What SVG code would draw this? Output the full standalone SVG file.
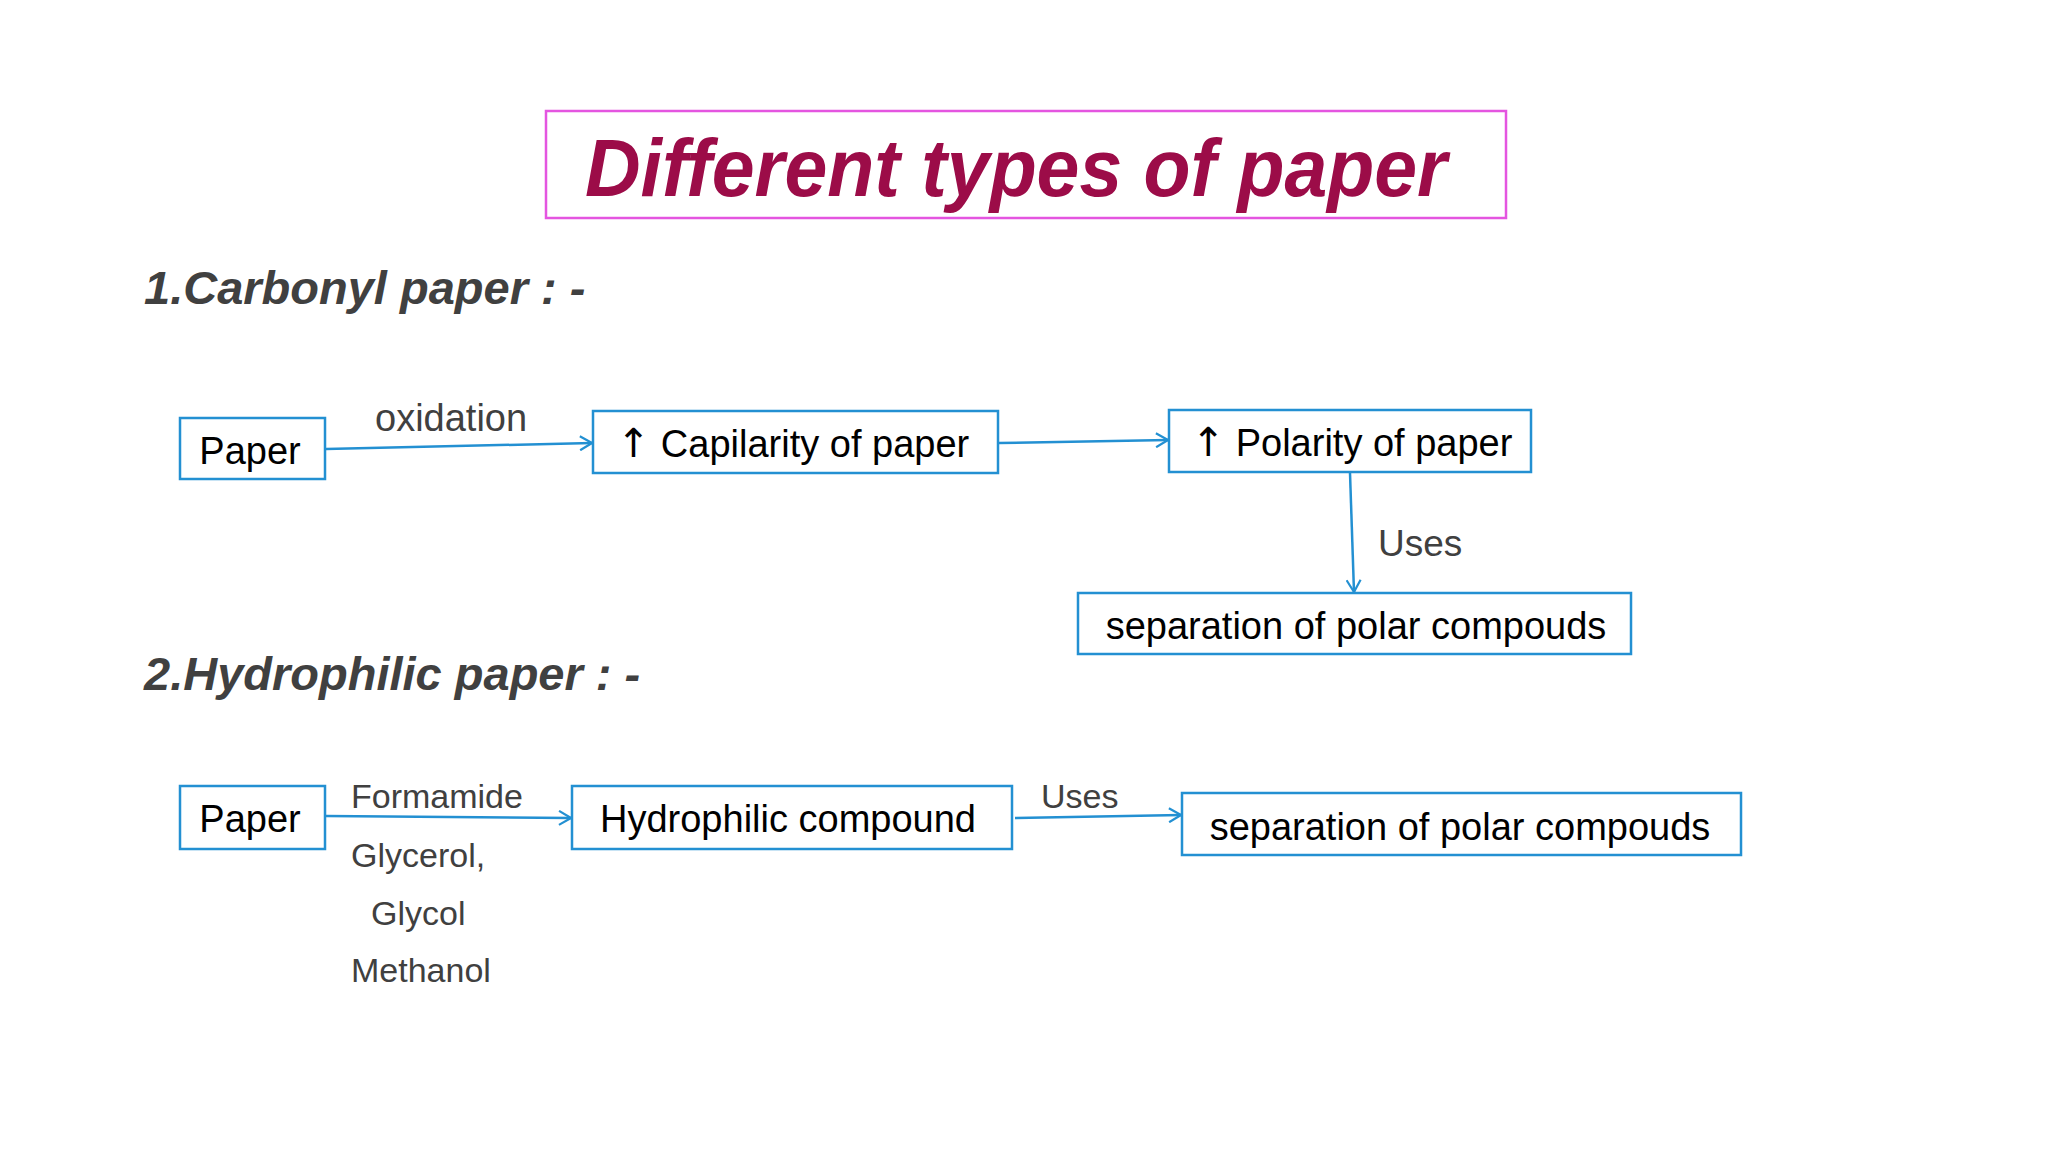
<svg xmlns="http://www.w3.org/2000/svg" width="2048" height="1152" viewBox="0 0 2048 1152">
<defs>
<style>
.box{fill:#ffffff;stroke:#2390d2;stroke-width:2.5}
.conn{fill:none;stroke:#2390d2;stroke-width:2.5}
.bt{font-family:"Liberation Sans",Arial,sans-serif;font-size:38px;fill:#000000;text-anchor:middle}
.up{font-family:"DejaVu Sans",sans-serif;font-size:40px}
.lbl{font-family:"Liberation Sans",Arial,sans-serif;fill:#404040}
.head{font-family:"Liberation Sans",Arial,sans-serif;font-weight:bold;font-style:italic;font-size:47px;fill:#404040}
</style>
<marker id="arr" viewBox="0 0 14 16" refX="13" refY="8" markerWidth="14" markerHeight="16" markerUnits="userSpaceOnUse" orient="auto">
<path d="M1,1 L13,8 L1,15" fill="none" stroke="#2390d2" stroke-width="2.2"/>
</marker>
</defs>
<rect width="2048" height="1152" fill="#ffffff"/>
<g id="title">
<rect x="546" y="111" width="960" height="107" fill="#ffffff" stroke="#e455e0" stroke-width="2.5"/>
<text x="585" y="196" font-family="Liberation Sans,Arial,sans-serif" font-weight="bold" font-style="italic" font-size="82" fill="#9c0c48" textLength="862" lengthAdjust="spacingAndGlyphs">Different types of paper</text>
</g>
<g id="heading1"><text class="head" x="144" y="304">1.Carbonyl paper : -</text></g>
<g id="heading2"><text class="head" x="144" y="690">2.Hydrophilic paper : -</text></g>
<g id="connectors">
<line class="conn" x1="326" y1="449" x2="592" y2="443" marker-end="url(#arr)"/>
<line class="conn" x1="999" y1="443" x2="1168" y2="440" marker-end="url(#arr)"/>
<line class="conn" x1="1350" y1="473" x2="1354" y2="592" marker-end="url(#arr)"/>
<line class="conn" x1="326" y1="816" x2="571" y2="818" marker-end="url(#arr)"/>
<line class="conn" x1="1015" y1="818" x2="1181" y2="815" marker-end="url(#arr)"/>
<text class="lbl" x="375" y="431" font-size="38">oxidation</text>
<text class="lbl" x="1378" y="556" font-size="37">Uses</text>
<text class="lbl" x="351" y="808" font-size="34">Formamide</text>
<text class="lbl" x="351" y="867" font-size="34">Glycerol,</text>
<text class="lbl" x="371" y="925" font-size="34">Glycol</text>
<text class="lbl" x="351" y="982" font-size="34">Methanol</text>
<text class="lbl" x="1041" y="808" font-size="34">Uses</text>
</g>
<g id="paper1"><rect class="box" x="180" y="418" width="145" height="61"/><text class="bt" x="250" y="464">Paper</text></g>
<g id="capilarity"><rect class="box" x="593" y="411" width="405" height="62"/><text class="bt" x="793" y="457"><tspan class="up">↑</tspan> Capilarity of paper</text></g>
<g id="polarity"><rect class="box" x="1169" y="410" width="362" height="62"/><text class="bt" x="1352" y="456"><tspan class="up">↑</tspan> Polarity of paper</text></g>
<g id="separation1"><rect class="box" x="1078" y="593" width="553" height="61"/><text class="bt" x="1356" y="639">separation of polar compouds</text></g>
<g id="paper2"><rect class="box" x="180" y="786" width="145" height="63"/><text class="bt" x="250" y="832">Paper</text></g>
<g id="hydrophilic"><rect class="box" x="572" y="786" width="440" height="63"/><text class="bt" x="788" y="832">Hydrophilic compound</text></g>
<g id="separation2"><rect class="box" x="1182" y="793" width="559" height="62"/><text class="bt" x="1460" y="840">separation of polar compouds</text></g>
</svg>
